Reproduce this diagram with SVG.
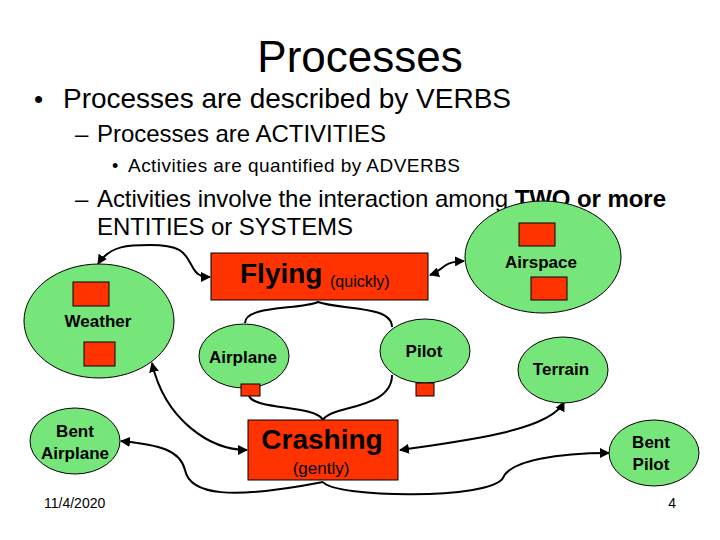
<svg xmlns="http://www.w3.org/2000/svg" width="720" height="540" viewBox="0 0 720 540">
<defs>
<marker id="ah" viewBox="0 0 10 10" refX="9" refY="5" markerWidth="5" markerHeight="5" orient="auto-start-reverse"><path d="M0,0 L10,5 L0,10 z" fill="#000"/></marker>
<style>
text{font-family:"Liberation Sans",Arial,sans-serif;fill:#000}
.c{fill:#77e67a;stroke:#000;stroke-width:1}
.r{fill:#ff3300;stroke:#000;stroke-width:1}
.l{fill:none;stroke:#000;stroke-width:2}
.b{font-weight:bold;font-size:17px;text-anchor:middle}
</style>
</defs>
<rect width="720" height="540" fill="#fff"/>
<text x="360" y="72" font-size="44" text-anchor="middle">Processes</text>
<text x="34" y="108" font-size="26">•</text>
<text x="63" y="108" font-size="28" textLength="448">Processes are described by VERBS</text>
<text x="75" y="142" font-size="24">–</text>
<text x="97" y="142" font-size="24" textLength="289">Processes are ACTIVITIES</text>
<text x="112" y="172" font-size="18">•</text>
<text x="128" y="172" font-size="19" textLength="332">Activities are quantified by ADVERBS</text>
<text x="75" y="207" font-size="24">–</text>
<text x="97" y="207" font-size="24" textLength="569">Activities involve the interaction among <tspan font-weight="bold">TWO or more</tspan></text>
<text x="97" y="235" font-size="24" textLength="256">ENTITIES or SYSTEMS</text>
<g id="connectors">
<path class="l" d="M98,264 C110,245 130,245 150,245 C185,245 185,255 192,266 C196,274 200,277 210,277" marker-start="url(#ah)" marker-end="url(#ah)"/>
<path class="l" d="M430,275 C445,270 440,262 464,261" marker-start="url(#ah)" marker-end="url(#ah)"/>
<path class="l" d="M245,323 C245,305 300,310 318,302 C340,310 392,305 392,327"/>
<path class="l" d="M249,396 C255,410 315,405 323,420 C330,405 392,410 392,375"/>
<path class="l" d="M152,363 C165,420 210,450 247,450" marker-start="url(#ah)" marker-end="url(#ah)"/>
<path class="l" d="M400,450 C470,440 550,430 564,402" marker-start="url(#ah)" marker-end="url(#ah)"/>
<path class="l" d="M121,441 C160,445 180,450 185,470 C190,495 230,500 323,482" marker-start="url(#ah)"/>
<path class="l" d="M323,482 C335,498 490,500 503,478 C510,460 560,453 609,453" marker-end="url(#ah)"/>
</g>
<g id="weather"><ellipse class="c" cx="99" cy="321" rx="75" ry="57"/><rect class="r" x="73" y="282" width="36" height="24"/><text class="b" x="98" y="327">Weather</text><rect class="r" x="84" y="342" width="31" height="24"/></g>
<g id="airspace"><ellipse class="c" cx="543" cy="257" rx="78" ry="56"/><rect class="r" x="519" y="223" width="36" height="23"/><text class="b" x="541" y="268">Airspace</text><rect class="r" x="531" y="277" width="36" height="23"/></g>
<g id="flying"><rect class="r" x="211" y="253" width="217" height="47"/><text x="240" y="283" font-size="28" font-weight="bold">Flying</text><text x="330" y="287" font-size="16">(quickly)</text></g>
<g id="airplane"><ellipse class="c" cx="244" cy="356" rx="45" ry="32"/><text class="b" x="243" y="363">Airplane</text><rect class="r" x="241" y="384" width="19" height="12"/></g>
<g id="pilot"><ellipse class="c" cx="425" cy="351" rx="45" ry="32"/><text class="b" x="424" y="357">Pilot</text><rect class="r" x="416" y="383" width="18" height="13"/></g>
<g id="terrain"><ellipse class="c" cx="563" cy="370" rx="45" ry="33"/><text class="b" x="561" y="375">Terrain</text></g>
<g id="crashing"><rect class="r" x="248" y="420" width="150" height="60"/><text x="322" y="449" font-size="28" font-weight="bold" text-anchor="middle">Crashing</text><text x="321" y="474" font-size="17" text-anchor="middle">(gently)</text></g>
<g id="bentairplane"><ellipse class="c" cx="75" cy="441" rx="45" ry="33"/><text class="b" x="75" y="437">Bent</text><text class="b" x="75" y="459">Airplane</text></g>
<g id="bentpilot"><ellipse class="c" cx="654" cy="453" rx="45" ry="33"/><text class="b" x="651" y="448">Bent</text><text class="b" x="651" y="470">Pilot</text></g>
<text x="44" y="508" font-size="14">11/4/2020</text>
<text x="676" y="508" font-size="14" text-anchor="end">4</text>
</svg>
